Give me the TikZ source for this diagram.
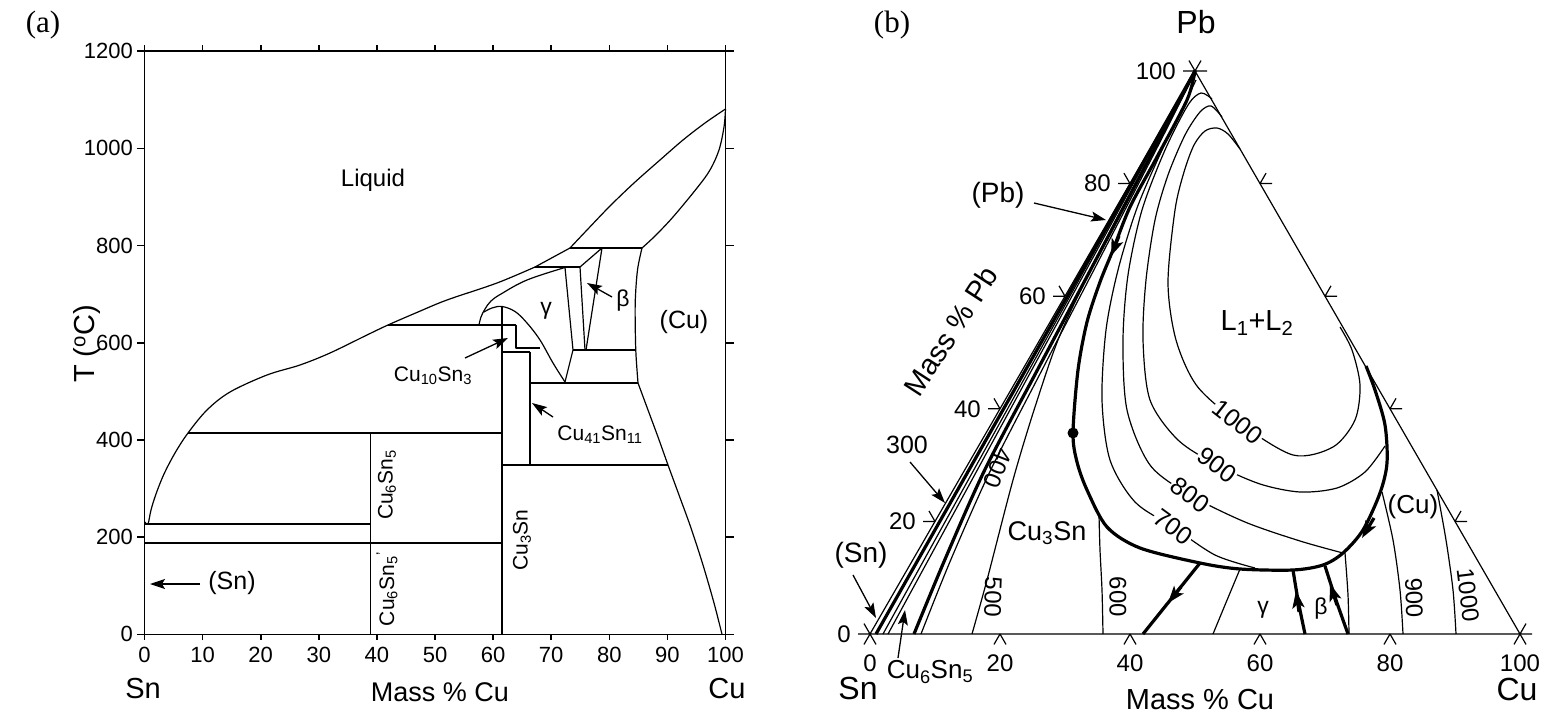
\documentclass[tikz,border=0pt]{standalone}
\usepackage{fontspec}
\setmainfont{Liberation Sans}
\newfontfamily\tnr{Liberation Serif}
\usetikzlibrary{arrows.meta}
\begin{document}
\begin{tikzpicture}[x=1pt,y=-1pt,line join=round,
  ln/.style={line width=1.2pt},
  tk/.style={line width=3.2pt},
  ax/.style={line width=1.6pt},
  fs/.style={font=\fontsize{#1}{#1}\selectfont},
  arr/.style={line width=1.3pt,-{Stealth[length=15pt,width=10pt,inset=3pt]}},
  mk/.style={line width=3.2pt,-{Stealth[length=17pt,width=12pt,inset=4pt]}},
  every node/.style={inner sep=0pt}]
\useasboundingbox (0,0) rectangle (1559,719);

%================ PANEL (a) ================
\node[font=\tnr\fontsize{31}{31}\selectfont] (pa) at (43,25) {(a)};
\draw[ax] (144.5,51) rectangle (725.5,634.3);
\foreach \w in {0,10,...,100} {
  \pgfmathsetmacro\xx{144.5+5.81*\w}
  \draw[ax] (\xx,634.3) -- (\xx,640.3);
  \draw[ax] (\xx,51) -- (\xx,45);
  \node[fs=22] (xa\w) at (\xx,655) {\w};
}
\foreach \t in {0,200,...,1200} {
  \pgfmathsetmacro\yy{634.3-0.486*\t}
  \draw[ax] (144.5,\yy) -- (136.5,\yy);
  \draw[ax] (725.5,\yy) -- (733.5,\yy);
  \node[fs=22,anchor=east] (ya\t) at (133,\yy) {\t};
}
\node[fs=29,rotate=90] (tlab) at (87,344) {T (\textsuperscript{o}C)};
\node[fs=29] (sna) at (143,689) {Sn};
\node[fs=27] (mca) at (440,692) {Mass \% Cu};
\node[fs=29] (cua) at (727,689) {Cu};

% liquidus
\draw[ln] plot[smooth,tension=0.55] coordinates {(145,522) (148,524) (151,510) (156,494) (164,474) (175,453) (188,433) (207,410) (230,392) (267,375) (300,365) (330,353) (367,335) (388,325) (418,312) (447,300) (497,283) (535,267)};
\draw[ln] (535,267) -- (570,248);
\draw[ln] plot[smooth,tension=0.55] coordinates {(570,248) (587,230) (610,206) (634,183) (660,160) (683,140) (705,123) (725.5,109)};
% Cu solidus and solvus
\draw[ln] plot[smooth,tension=0.55] coordinates {(725.5,109) (724,127) (719,150) (710,170) (697,188) (673,217) (655,236) (642,248)};
\draw[ln] plot[smooth,tension=0.55] coordinates {(642,248) (637.5,270) (635.3,300) (635.3,330) (636,355) (638,383)};
\draw[ln] plot[smooth,tension=0.5] coordinates {(638,383) (648,410) (658,437) (668,465) (679,495) (691,528) (703,565) (714,603) (722,634.3)};
% horizontals
\draw[ln] (570,248) -- (642,248);
\draw[ln] (535,267) -- (580,267);
\draw[ln] (388,325) -- (516,325);
\draw[ln] (573,350) -- (635.5,350);
\draw[ln] (530,383) -- (638,383);
\draw[ln] (188,433) -- (502,433);
\draw[ln] (502,465) -- (668,465);
\draw[ln] (145,524) -- (370.5,524);
\draw[ln] (145,543) -- (502,543);
% verticals
\draw[ln] (370.5,433) -- (370.5,634.3);
\draw[ln] (502,306.5) -- (502,634.3);
\draw[ln] (530,352) -- (530,465);
\draw[ln] (516,325) -- (516,348) -- (540,348);
\draw[ln] (502,352) -- (530,352);
% gamma
\draw[ln] plot[smooth,tension=0.6] coordinates {(479,325) (481,317) (485,309) (491,301) (501,294) (527,280) (565,267.5)};
\draw[ln] plot[smooth,tension=0.6] coordinates {(484,312) (492,308) (502,306.5) (515,311.5) (527,323) (540,340) (553,363) (565,382)};
\draw[ln] (565,267.5) -- (573,350) -- (565,382);
% beta
\draw[ln] (580,267) -- (585,350);
\draw[ln] (580,267) -- (602,248) -- (586,350);
% labels (a)
\node[fs=24] (liq) at (373,180) {Liquid};
\node[fs=23] (ga) at (546,311) {γ};
\node[fs=23] (ba) at (623,301) {β};
\node[fs=25] (cuss) at (684,322) {(Cu)};
\node[fs=21] (c103) at (433,376) {Cu\textsubscript{10}Sn\textsubscript{3}};
\node[fs=21] (c4111) at (600,435) {Cu\textsubscript{41}Sn\textsubscript{11}};
\node[fs=21,rotate=90] (c65) at (387,485) {Cu\textsubscript{6}Sn\textsubscript{5}};
\node[fs=21,rotate=90] (c65p) at (387,589) {Cu\textsubscript{6}Sn\textsubscript{5}\kern-0.1em\textsuperscript{\,'}};
\node[fs=21,rotate=90] (c3) at (522,540) {Cu\textsubscript{3}Sn};
\node[fs=25] (sns) at (232,583) {(Sn)};
\coordinate (a1) at (508,338);
\coordinate (a2) at (532,403);
\coordinate (a3) at (587,283);
\coordinate (a4) at (150,584);
\draw[arr] (465,358) -- (a1);
\draw[arr] (553,417) -- (a2);
\draw[arr] (612,297) -- (a3);
\draw[arr] (200,584) -- (a4);

%================ PANEL (b) ================
\node[font=\tnr\fontsize{31}{31}\selectfont] (pb) at (892,25) {(b)};
\node[fs=32] (pbv) at (1196,22) {Pb};
\node[fs=32] (snv) at (858,688) {Sn};
\node[fs=32] (cuv) at (1517,689) {Cu};
\node[fs=29] (mcb) at (1200,700) {Mass \% Cu};
\node[fs=29,rotate=57] (mpb) at (951,331) {Mass \% Pb};

\coordinate (S) at (870,634);
\coordinate (C) at (1520,634);
\coordinate (P) at (1195,71);
\draw[ln] (S) -- (P) -- (C) -- cycle;
% ticks
\foreach \k in {0,1,2,3,4,5} {
  \pgfmathsetmacro\lx{870+65*\k}
  \pgfmathsetmacro\ly{634-112.6*\k}
  \pgfmathsetmacro\rx{1520-65*\k}
  \pgfmathsetmacro\bx{870+130*\k}
  \pgfmathtruncatemacro\lab{20*\k}
  \draw[ln] (\lx,\ly) -- ++(-12,0) (\lx,\ly) -- ++(-6,-10.4);
  \draw[ln] (\rx,\ly) -- ++(12,0) (\rx,\ly) -- ++(6,-10.4);
  \draw[ln] (\bx,634) -- ++(-6,10.4) (\bx,634) -- ++(6,10.4);
  \node[fs=24,anchor=east] (lt\k) at (\lx-19,\ly) {\lab};
  \node[fs=24] (bt\k) at (\bx,663) {\lab};
}
% near-edge cluster
\draw[tk] (876,634) -- (1195,71);
\draw[ln] (883,634) -- (1194,72);
\draw[ln] (888,634) -- (1194,72);
\draw[tk] plot[smooth,tension=0.5] coordinates {(914,634) (944.7,560) (984.7,470) (1037.4,370) (1094.7,262) (1158,142) (1195,71)};
\draw[ln] plot[smooth,tension=0.5] coordinates {(921,634) (950.7,560) (990.7,470) (1042,370) (1098,262) (1160,142) (1195,72)};
% 500, 600
\draw[ln] plot[smooth,tension=0.5] coordinates {(972,634) (987,580) (1013,480) (1035,407) (1060,335) (1098,255) (1137,180) (1175,110) (1195,72)};
\draw[ln] plot[smooth,tension=0.5] coordinates {(1103,634) (1102,590) (1100,550) (1099,515)};
% trough T
\draw[tk] plot[smooth,tension=0.5] coordinates {(1195,71) (1187,100) (1157,157) (1130,207) (1113,250) (1100,282) (1087,322) (1078,370) (1073,433) (1077,462) (1087,490) (1107,527) (1140,548) (1200,563) (1240,569) (1293,570) (1323,565) (1343,553) (1363,530) (1380,493) (1387,463) (1385,425) (1375,390) (1366,366)};
\fill (1073,433) circle[radius=5.5pt];
% L1+L2 isotherms
\draw[ln] plot[smooth,tension=0.5] coordinates {(1240,149) (1228,134) (1217,128) (1205,131) (1194,145) (1184,172) (1175,210) (1168,283) (1176,340) (1197,386) (1238,422) (1293,455) (1333,447) (1355,420) (1360,385) (1352,350) (1340,327)};
\draw[ln] plot[smooth,tension=0.5] coordinates {(1222,117) (1211,106) (1200,112) (1185,135) (1168,175) (1155,220) (1146,280) (1143,340) (1150,400) (1178,440) (1217,465) (1260,484) (1300,492) (1337,488) (1365,472) (1385,446)};
\draw[ln] plot[smooth,tension=0.5] coordinates {(1212,99) (1201,93) (1188,105) (1165,150) (1142,210) (1128,275) (1123,340) (1127,410) (1150,465) (1190,495) (1245,522) (1300,541) (1343,553)};
\draw[ln] plot[smooth,tension=0.5] coordinates {(1196,80) (1185,103) (1162,150) (1137,208) (1118,270) (1106,330) (1102,400) (1110,460) (1135,502) (1173,527) (1215,555) (1255,568)};
% lower lines
\draw[tk] (1143,634) -- (1200,563);
\draw[ln] plot[smooth,tension=0.5] coordinates {(1213,634) (1225,605) (1240,569)};
\draw[tk] plot[smooth,tension=0.5] coordinates {(1305,634) (1298,600) (1293,570)};
\draw[tk] plot[smooth,tension=0.5] coordinates {(1348,634) (1336,600) (1325,566)};
\draw[ln] plot[smooth,tension=0.5] coordinates {(1349,634) (1348,595) (1345,553)};
\draw[ln] plot[smooth,tension=0.5] coordinates {(1403,634) (1400,590) (1393,540) (1382,492)};
\draw[ln] plot[smooth,tension=0.5] coordinates {(1456,634) (1453,590) (1446,540) (1437,490)};
% arrow marks
\draw[mk] (1119,236) -- (1111,256);
\draw[mk] (1374,518) -- (1362,538);
\draw[mk] (1181,587) -- (1168,603);
\draw[mk] (1299,612) -- (1296,591);
\draw[mk] (1337,605) -- (1330,584);
% labels (b)
\node[fs=25,fill=white,inner sep=1pt,rotate=-38] (i1000) at (1238,422) {1000};
\node[fs=25,fill=white,inner sep=1pt,rotate=-36] (i900) at (1217,465) {900};
\node[fs=25,fill=white,inner sep=1pt,rotate=-36] (i800) at (1190,495) {800};
\node[fs=25,fill=white,inner sep=1pt,rotate=-36] (i700) at (1173,527) {700};
\node[fs=24,rotate=-111] (i400) at (998,468) {400};
\node[fs=24,rotate=-92] (i500) at (993,597) {500};
\node[fs=24,rotate=-90] (i600) at (1118,597) {600};
\node[fs=24,rotate=-88] (j900) at (1414,598) {900};
\node[fs=24,rotate=-83] (j1000) at (1468,595) {1000};
\node[fs=29] (l12) at (1257,323) {L\textsubscript{1}+L\textsubscript{2}};
\node[fs=27] (c3b) at (1047,533) {Cu\textsubscript{3}Sn};
\node[fs=26] (cub) at (1413,507) {(Cu)};
\node[fs=23] (gb) at (1263,610) {γ};
\node[fs=23] (bb) at (1321,609) {β};
\node[fs=28] (snb) at (861,555) {(Sn)};
\node[fs=25] (t300) at (907,445) {300};
\node[fs=28] (pbb) at (998,195) {(Pb)};
\node[fs=26] (c65b) at (930,672) {Cu\textsubscript{6}Sn\textsubscript{5}};
\coordinate (b1) at (876,618);
\coordinate (b2) at (945,503);
\coordinate (b3) at (1106,220);
\coordinate (b4) at (905,610);
\draw[arr] (853,575) -- (b1);
\draw[arr] (910,462) -- (b2);
\draw[arr] (1034,203) -- (b3);
\draw[arr] (898,658) -- (b4);
\end{tikzpicture}
\end{document}
